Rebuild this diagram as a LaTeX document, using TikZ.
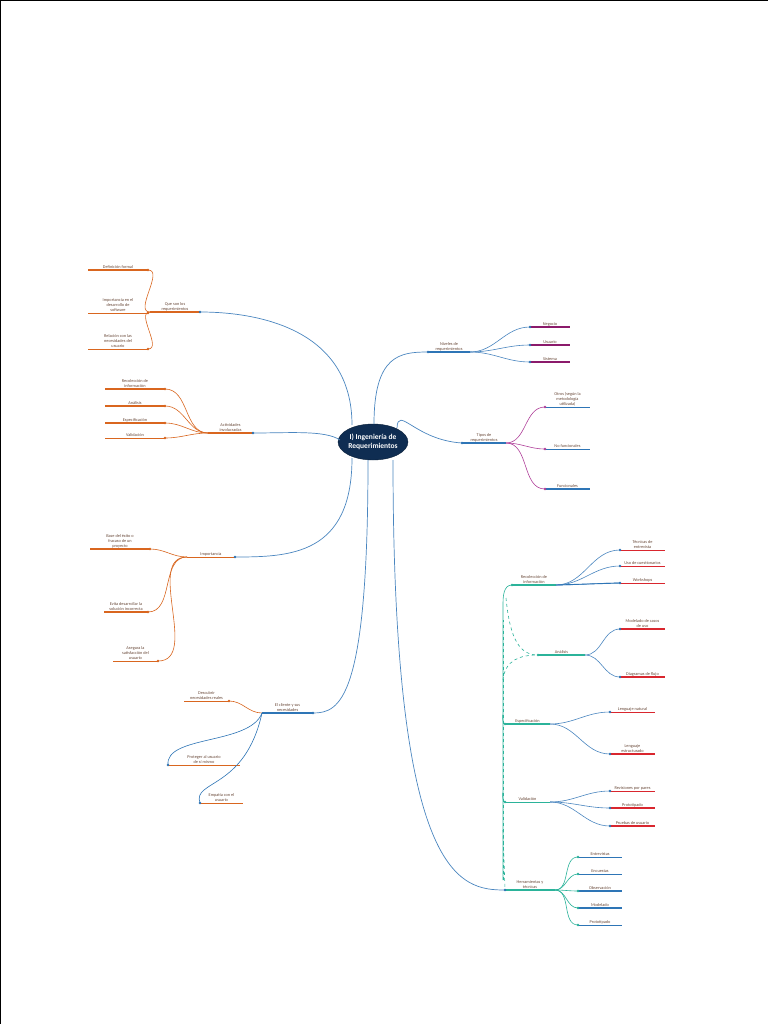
\documentclass[tikz,border=0pt]{standalone}
\usepackage{fontspec}
\setmainfont{Carlito}
\usetikzlibrary{calc,shapes.geometric}
\definecolor{org}{HTML}{D9661F}
\definecolor{blu}{HTML}{2E75B6}
\definecolor{cbl}{HTML}{4A86C0}
\definecolor{pur}{HTML}{8B1A6B}
\definecolor{mag}{HTML}{B0409A}
\definecolor{tea}{HTML}{2BB39A}
\definecolor{red1}{HTML}{D9262E}
\definecolor{nav}{HTML}{0F2D52}
\definecolor{txt}{HTML}{6A4A3A}
\tikzset{lbl/.style={font=\fontsize{4.3}{5}\selectfont, text=txt, align=center, inner sep=1pt},
 con/.style={cbl, line width=0.7pt},
 fan/.style={line width=0.6pt}}
\newcommand\leaf[7]{%
 \coordinate (#1-l) at (#2,#4); \coordinate (#1-r) at (#3,#4);
 \draw[#5, line width=#6] (#1-l) -- (#1-r);
 \node[lbl, above] (#1-t) at ($(#1-l)!0.5!(#1-r)$) {#7};}
\newcommand\dotat[2]{\fill[#1] (#2) circle (1.4);}
\begin{document}
\begin{tikzpicture}[x=1pt,y=-1pt]
\useasboundingbox (0,0) rectangle (768,1024);
\fill[white] (0,0) rectangle (768,1024);
\draw[black, line width=1.5pt] (0,1024) -- (0,0) -- (768,0);
% center
\node[ellipse, fill=nav, draw=nav!70!black, minimum width=68, minimum height=36, inner sep=0pt, text=white, font=\bfseries\fontsize{7.5}{8.5}\selectfont, align=center] (c) at (373,442) {I) Ingeniería de\\Requerimientos};
% ---------- left: Que son
\leaf{q}{150}{200}{312}{org}{1.2pt}{Que son los\\requerimientos}
\leaf{q1}{88}{148}{270}{org}{1.5pt}{Definición formal}
\leaf{q2}{88}{148}{313}{org}{0.9pt}{Importancia en el\\desarrollo de\\software}
\leaf{q3}{88}{148}{349}{org}{0.9pt}{Relación con las\\necesidades del\\usuario}
\foreach \k in {q1,q2,q3}{\draw[org,fan] (q-l) to[out=180,in=0] (\k-r); \dotat{org}{\k-r}}
\draw[con] (352,425) .. controls (352,330) and (260,312) .. (q-r); \dotat{blu}{q-r}
% ---------- Actividades
\leaf{a}{208}{253}{433}{org}{1.5pt}{Actividades\\involucradas}
\leaf{a1}{105}{165}{389}{org}{1.5pt}{Recolección de\\información}
\leaf{a2}{105}{165}{406}{org}{1.5pt}{Análisis}
\leaf{a3}{105}{165}{423}{org}{1.5pt}{Especificación}
\leaf{a4}{105}{165}{438}{org}{0.9pt}{Validación}
\foreach \k in {a1,a2,a3,a4}{\draw[org,fan] (a-l) to[out=180,in=0] (\k-r); \dotat{org}{\k-r}}
\draw[con] (340,440) .. controls (325,430) and (290,433) .. (a-r); \dotat{blu}{a-r}
% ---------- Importancia
\leaf{i}{187}{235}{557}{org}{0.9pt}{Importancia}
\leaf{i1}{90}{150}{549}{org}{1.5pt}{Base del éxito o\\fracaso de un\\proyecto}
\leaf{i2}{104}{148}{612}{org}{1.5pt}{Evita desarrollar la\\solución incorrecta}
\leaf{i3}{113}{158}{661}{org}{0.9pt}{Asegura la\\satisfacción del\\usuario}
\foreach \k in {i1,i2,i3}{\draw[org,fan] (i-l) to[out=180,in=0] (\k-r); \dotat{org}{\k-r}}
\draw[con] (352,458) .. controls (352,555) and (290,557) .. (i-r); \dotat{blu}{i-r}
% ---------- Cliente
\leaf{cl}{262}{313}{713}{blu}{1.2pt}{El cliente y sus\\necesidades}
\leaf{cl1}{184}{229}{701}{org}{0.9pt}{Descubrir\\necesidades reales}
\leaf{cl2}{168}{240}{765}{org}{0.9pt}{Proteger al usuario\\de sí mismo}
\leaf{cl3}{200}{243}{803}{org}{0.9pt}{Empatía con el\\usuario}
\draw[org,fan] (cl-l) to[out=180,in=0] (cl1-r); \dotat{org}{cl1-r}
\draw[blu,fan] (cl-l) .. controls (250,745) and (165,735) .. (cl2-l); \dotat{blu}{cl2-l}
\draw[blu,fan] (cl-l) .. controls (245,790) and (192,780) .. (cl3-l); \dotat{blu}{cl3-l}
\draw[con] (368,460) .. controls (368,700) and (340,713) .. (cl-r); \dotat{blu}{cl-r}
% ---------- Niveles
\leaf{n}{428}{470}{352}{blu}{1.5pt}{Niveles de\\requerimientos}
\leaf{n1}{530}{570}{327}{pur}{1.2pt}{Negocio}
\leaf{n2}{530}{570}{345}{pur}{1.5pt}{Usuario}
\leaf{n3}{530}{570}{362}{pur}{1.5pt}{Sistema}
\foreach \k in {n1,n2,n3}{\draw[cbl,fan] (n-r) to[out=0,in=180] (\k-l); \dotat{blu}{\k-l}}
\draw[con] (374,424) .. controls (374,355) and (400,352) .. (n-l); \dotat{blu}{n-l}
% ---------- Tipos
\leaf{t}{462}{506}{443}{blu}{1.5pt}{Tipos de\\requerimientos}
\leaf{t1}{545}{590}{407}{blu}{0.9pt}{Otros (según la\\metodología\\utilizada)}
\leaf{t2}{545}{590}{449}{blu}{0.9pt}{No funcionales}
\leaf{t3}{545}{590}{489}{blu}{1.5pt}{Funcionales}
\foreach \k in {t1,t2,t3}{\draw[mag,fan] (t-r) to[out=0,in=180] (\k-l); \dotat{mag}{\k-l}}
\draw[con] (397,428) .. controls (398,405) and (415,440) .. (t-l); \dotat{blu}{t-l}
% ---------- bottom groups
\leaf{r}{512}{556}{585}{tea}{1.2pt}{Recolección de\\información}
\leaf{r1}{620}{665}{550}{red1}{0.8pt}{Técnicas de\\entrevista}
\leaf{r2}{620}{665}{566}{red1}{0.8pt}{Uso de cuestionarios}
\leaf{r3}{620}{665}{583}{red1}{0.8pt}{Workshops}
\foreach \k in {r1,r2,r3}{\draw[cbl,fan] (r-r) to[out=0,in=180] (\k-l); \dotat{blu}{\k-l}}
\draw[blu,line width=0.9pt] (r-r) -- (r3-l);
\leaf{an}{538}{585}{655}{tea}{1.5pt}{Análisis}
\leaf{an1}{620}{665}{629}{red1}{1.5pt}{Modelado de casos\\de uso}
\leaf{an2}{620}{665}{677}{red1}{1.5pt}{Diagramas de flujo}
\foreach \k in {an1,an2}{\draw[cbl,fan] (an-r) to[out=0,in=180] (\k-l); \dotat{blu}{\k-l}}
\leaf{e}{505}{550}{724}{tea}{1.5pt}{Especificación}
\leaf{e1}{610}{655}{712}{red1}{0.8pt}{Lenguaje natural}
\leaf{e2}{610}{655}{754}{red1}{1.5pt}{Lenguaje\\estructurado}
\foreach \k in {e1,e2}{\draw[cbl,fan] (e-r) to[out=0,in=180] (\k-l); \dotat{blu}{\k-l}}
\leaf{v}{505}{550}{802}{tea}{0.9pt}{Validación}
\leaf{v1}{610}{655}{791}{red1}{0.8pt}{Revisiones por pares}
\leaf{v2}{610}{655}{808}{red1}{1.5pt}{Prototipado}
\leaf{v3}{610}{655}{826}{red1}{1.5pt}{Pruebas de usuario}
\foreach \k in {v1,v2,v3}{\draw[cbl,fan] (v-r) to[out=0,in=180] (\k-l); \dotat{blu}{\k-l}}
\leaf{h}{505}{555}{890}{tea}{1.5pt}{Herramientas y\\técnicas}
\leaf{h1}{578}{622}{857}{blu}{0.8pt}{Entrevistas}
\leaf{h2}{578}{622}{874}{blu}{0.8pt}{Encuestas}
\leaf{h3}{578}{622}{891}{blu}{1.5pt}{Observación}
\leaf{h4}{578}{622}{908}{blu}{1.5pt}{Modelado}
\leaf{h5}{578}{622}{925}{blu}{0.8pt}{Prototipado}
\foreach \k in {h1,h2,h3,h4,h5}{\draw[tea,fan] (h-r) to[out=0,in=180] (\k-l); \dotat{tea}{\k-l}}
% teal trunk
\coordinate (tr) at (503,880);
\draw[tea,fan] (tr) -- (503,605) to[out=90,in=180] (r-l); \dotat{tea}{r-l}
\draw[tea,fan,dashed] (503,880) -- (503,620);
\draw[tea,fan,dashed] (506,598) .. controls (510,640) and (520,655) .. (an-l);
\draw[tea,fan,dashed] (503,680) .. controls (505,660) and (520,655) .. (an-l); \dotat{tea}{an-l}
\draw[tea,fan] (503,715) to[out=90,in=180] (e-l); \dotat{tea}{e-l}
\draw[tea,fan] (503,793) to[out=90,in=180] (v-l); \dotat{tea}{v-l}
\draw[tea,fan,dashed] (503,830) -- (h-l);
\draw[con] (393,460) .. controls (393,880) and (460,890) .. (h-l); \dotat{blu}{h-l}
\end{tikzpicture}
\end{document}
